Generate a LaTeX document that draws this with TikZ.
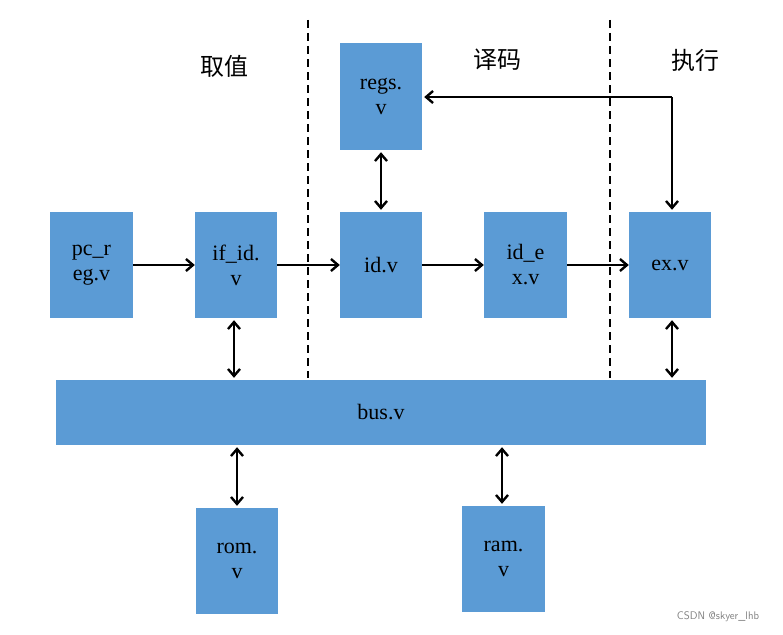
\documentclass[tikz,border=0pt]{standalone}
\usepackage{fontspec}
\setmainfont{Liberation Serif}
\newfontfamily\cjk{Noto Sans CJK SC}
\usetikzlibrary{arrows.meta}
\definecolor{boxblue}{HTML}{5B9BD5}
\begin{document}
\begin{tikzpicture}[x=1pt,y=-1pt,
  box/.style={fill=boxblue,draw=none,inner sep=0,align=center,font=\fontsize{22}{25}\selectfont},
  ar/.style={line width=2.4pt,-{Straight Barb[length=7pt,width=12pt]}},
  bar/.style={line width=2.4pt,{Straight Barb[length=7pt,width=12pt]}-{Straight Barb[length=7pt,width=12pt]}},
  sepline/.style={line width=2.4pt,dash pattern=on 8pt off 5pt},
  lab/.style={font=\cjk\fontsize{24}{28}\selectfont}]
\useasboundingbox (0,0) rectangle (783,634);
\newcommand{\mybox}[6]{\node[box,minimum width=#4-#2,minimum height=#5-#3] (#1) at ({(#2+#4)/2},{(#3+#5)/2}) {#6};}
\mybox{pcreg}{50}{212}{133}{318}{pc\_r\\eg.v}
\mybox{ifid}{195}{212}{277}{318}{if\_id.\\v}
\mybox{id}{340}{212}{422}{318}{id.v}
\mybox{idex}{484}{212}{567}{318}{id\_e\\x.v}
\mybox{ex}{629}{212}{711}{318}{ex.v}
\mybox{regs}{340}{43}{422}{150}{regs.\\v}
\mybox{bus}{56}{380}{706}{445}{bus.v}
\mybox{rom}{196}{508}{278}{614}{rom.\\v}
\mybox{ram}{462}{506}{545}{612}{ram.\\v}
\coordinate (d1a) at (308,20); \coordinate (d1b) at (308,378);
\coordinate (d2a) at (610,20); \coordinate (d2b) at (610,378);
\draw[sepline] (d1a) -- (d1b);
\draw[sepline] (d2a) -- (d2b);
\node[lab] (l1) at (224,66) {取值};
\node[lab] (l2) at (497,60) {译码};
\node[lab] (l3) at (695,60) {执行};
\draw[ar] (pcreg) -- (ifid);
\draw[ar] (ifid) -- (id);
\draw[ar] (id) -- (idex);
\draw[ar] (idex) -- (ex);
\draw[bar] ([yshift=-2pt]regs.south) -- ([yshift=2pt]id.north);
\coordinate (corner) at (672,97);
\draw[ar] (corner) -- ([xshift=2pt]regs.east |- corner);
\draw[ar] (corner) -- ([yshift=2pt]ex.north -| corner);
\draw[bar] ([yshift=-2pt]ifid.south -| 234,0) -- ([yshift=2pt]bus.north -| 234,0);
\draw[bar] ([yshift=-2pt]ex.south -| 672,0) -- ([yshift=2pt]bus.north -| 672,0);
\draw[bar] ([yshift=-2pt]bus.south -| 237,0) -- ([yshift=2pt]rom.north -| 237,0);
\draw[bar] ([yshift=-2pt]bus.south -| 502,0) -- ([yshift=2pt]ram.north -| 502,0);
\node[font=\fontsize{11}{13}\selectfont\sffamily,text=gray] (wm) at (718,617) {CSDN @skyer\_lhb};
\end{tikzpicture}
\end{document}
